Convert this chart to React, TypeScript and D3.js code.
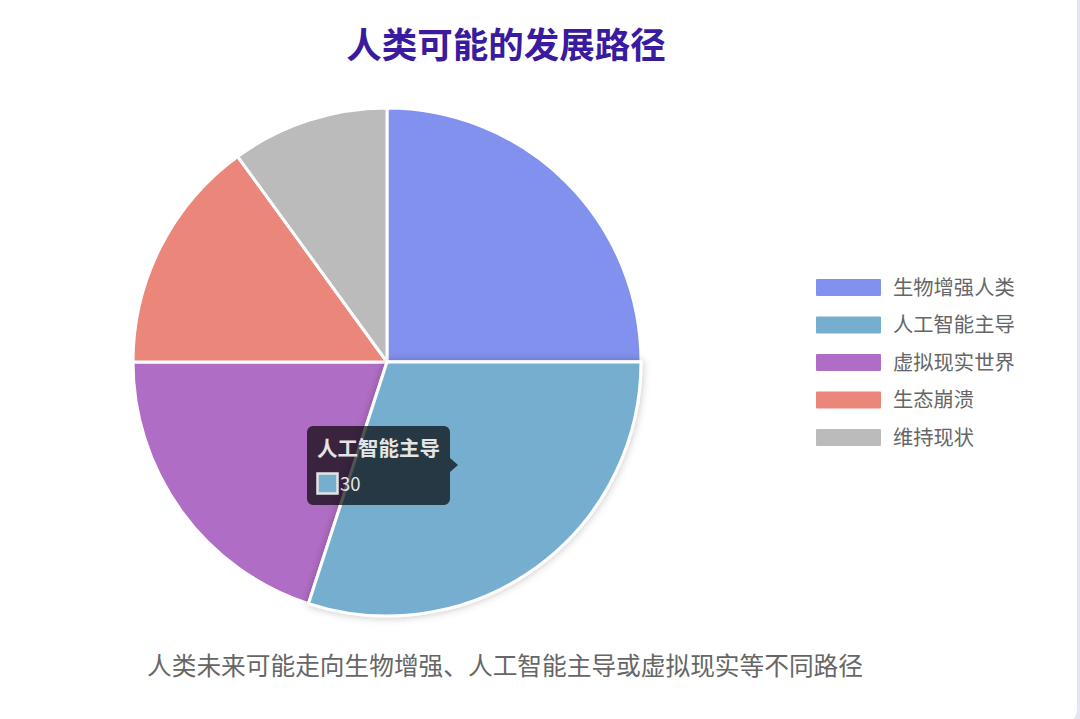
import * as d3 from 'd3';
import React, { useEffect } from 'react';

const categories = ['生物增强人类', '人工智能主导', '虚拟现实世界', '生态崩溃', '维持现状'];
const values = [25, 30, 20, 15, 10];
const colors = ['#8291ee', '#76aed0', '#b06dc5', '#ea877a', '#bbbbbb'];
const title = '人类可能的发展路径';
const caption = '人类未来可能走向生物增强、人工智能主导或虚拟现实等不同路径';
const hovered = 1;

export default function App() {
  const ref = React.useRef<SVGSVGElement>(null);

  useEffect(() => {
    if (!ref.current) return;
    const svg = d3.select(ref.current);
    svg.selectAll('*').remove();

    const W = 1080;
    const H = 719;
    const font = '"Noto Sans CJK SC", "Noto Sans", sans-serif';

    const defs = svg.append('defs');
    const f = defs
      .append('filter')
      .attr('id', 'shadow')
      .attr('x', '-20%')
      .attr('y', '-20%')
      .attr('width', '140%')
      .attr('height', '140%');
    f.append('feDropShadow')
      .attr('dx', 0)
      .attr('dy', 0)
      .attr('stdDeviation', 4)
      .attr('flood-color', '#000')
      .attr('flood-opacity', 0.25);

    // card background
    svg.append('rect').attr('width', W).attr('height', H).attr('fill', '#e3e5f0');
    svg
      .append('rect')
      .attr('x', -20)
      .attr('y', -20)
      .attr('width', W - 3 + 20)
      .attr('height', H + 20 + 6)
      .attr('rx', 16)
      .attr('fill', '#fff');

    // title
    svg
      .append('text')
      .attr('x', 506)
      .attr('y', 58)
      .attr('text-anchor', 'middle')
      .attr('font-family', font)
      .attr('font-size', 35.5)
      .attr('font-weight', 'bold')
      .attr('fill', '#3a1a9e')
      .text(title);

    const cx = 387;
    const cy = 362;
    const r = 254;

    const pie = d3
      .pie<number>()
      .sort(null)
      .value(d => d);
    const arcs = pie(values);
    const arc = d3.arc<d3.PieArcDatum<number>>().innerRadius(0).outerRadius(r);

    const g = svg.append('g').attr('transform', `translate(${cx},${cy})`);
    g.selectAll('path')
      .data(arcs)
      .enter()
      .append('path')
      .attr('d', arc)
      .attr('fill', (d, i) => colors[i])
      .attr('stroke', '#fff')
      .attr('stroke-width', 3)
      .attr('stroke-linejoin', 'round');
    // hovered slice on top with shadow
    g.append('path')
      .attr('d', arc(arcs[hovered]) as string)
      .attr('fill', colors[hovered])
      .attr('stroke', '#fff')
      .attr('stroke-width', 3)
      .attr('stroke-linejoin', 'round')
      .attr('filter', 'url(#shadow)');

    // legend
    const legend = svg
      .selectAll('.legend')
      .data(categories)
      .enter()
      .append('g')
      .attr('class', 'legend')
      .attr('transform', (d, i) => `translate(816,${279 + i * 37.5})`);
    legend
      .append('rect')
      .attr('width', 65)
      .attr('height', 17)
      .attr('rx', 1)
      .attr('fill', (d, i) => colors[i]);
    legend
      .append('text')
      .attr('x', 77)
      .attr('y', 8.5)
      .attr('dy', '0.35em')
      .attr('font-family', font)
      .attr('font-size', 20.3)
      .attr('fill', '#666')
      .text(d => d);

    // tooltip
    const tip = svg.append('g').attr('transform', 'translate(307,426)');
    tip
      .append('path')
      .attr('d', 'M6,0 H137 A6,6 0 0 1 143,6 V32 L151,39 L143,46 V73 A6,6 0 0 1 137,79 H6 A6,6 0 0 1 0,73 V6 A6,6 0 0 1 6,0 Z')
      .attr('fill', 'rgba(0,0,0,0.68)');
    tip
      .append('text')
      .attr('x', 10)
      .attr('y', 30)
      .attr('font-family', font)
      .attr('font-size', 20.5)
      .attr('font-weight', 'bold')
      .attr('fill', '#e4e4e4')
      .text(categories[hovered]);
    tip
      .append('rect')
      .attr('x', 10.5)
      .attr('y', 47.5)
      .attr('width', 20)
      .attr('height', 20)
      .attr('fill', colors[hovered])
      .attr('stroke', '#e4e4e4')
      .attr('stroke-width', 2.5);
    tip
      .append('text')
      .attr('x', 33)
      .attr('y', 65)
      .attr('font-family', font)
      .attr('font-size', 18.5)
      .attr('fill', '#e4e4e4')
      .text(String(values[hovered]));

    // caption
    svg
      .append('text')
      .attr('x', 505)
      .attr('y', 675)
      .attr('text-anchor', 'middle')
      .attr('font-family', font)
      .attr('font-size', 24.7)
      .attr('fill', '#666')
      .text(caption);
  }, []);

  return (
    <svg
      ref={ref}
      width={1080}
      height={719}
      style={{ position: 'absolute', left: 0, top: 0, display: 'block' }}
    />
  );
}
